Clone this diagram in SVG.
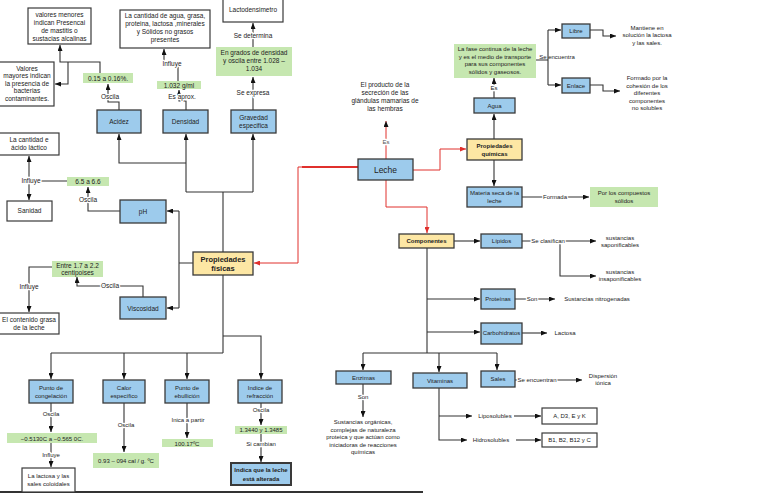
<svg xmlns="http://www.w3.org/2000/svg" width="768" height="494" viewBox="0 0 768 494">
<style>
rect.b{fill:#9dcbec;stroke:#3a3a3a;stroke-width:1.3}
rect.g{fill:#c6e7b0}
rect.y{fill:#fde7a4;stroke:#3a3a3a;stroke-width:1.3}
rect.w{fill:#fff;stroke:#3a3a3a;stroke-width:1.2}
path.c{fill:none;stroke:#333;stroke-width:1.1}
path.r{fill:none;stroke:#e0302c;stroke-width:1}
text{font-family:"Liberation Sans",Arial,sans-serif;font-size:6.5px;fill:#222;text-anchor:middle}
text.s{font-size:6px}
text.bd{font-weight:bold}
text.lb{stroke:#fff;stroke-width:2.5px;paint-order:stroke;stroke-linejoin:round}
</style>
<defs>
<marker id="a" viewBox="0 0 6 5" refX="6" refY="2.5" markerWidth="6" markerHeight="5" markerUnits="userSpaceOnUse" orient="auto"><path d="M0,0 L6,2.5 L0,5 z" fill="#111"/></marker>
<marker id="ar" viewBox="0 0 6 5" refX="6" refY="2.5" markerWidth="6" markerHeight="5" markerUnits="userSpaceOnUse" orient="auto"><path d="M0,0 L6,2.5 L0,5 z" fill="#e0302c"/></marker>
</defs>
<rect width="768" height="494" fill="#fff"/>

<g id="connectors">
<path class="c" d="M100,73 V62 H60 V45" marker-end="url(#a)"/>
<path class="c" d="M68,62 V84 H55" marker-end="url(#a)"/>
<path class="c" d="M119,110 V102 H108 V84" marker-end="url(#a)"/>
<path class="c" d="M186,110 V101 H179 V90" marker-end="url(#a)"/>
<path class="c" d="M178,81 V64 H164 V49" marker-end="url(#a)"/>
<path class="c" d="M253,110 V77" marker-end="url(#a)"/>
<path class="c" d="M253,47 V23" marker-end="url(#a)"/>
<path class="c" d="M223,252 V192 M186,192 H253"/>
<path class="c" d="M186,192 V134" marker-end="url(#a)"/>
<path class="c" d="M253,192 V134" marker-end="url(#a)"/>
<path class="c" d="M186,163 H119 V134" marker-end="url(#a)"/>
<path class="c" d="M193,263 H179 M179,211 V308"/>
<path class="c" d="M179,211 H167" marker-end="url(#a)"/>
<path class="c" d="M179,308 H167" marker-end="url(#a)"/>
<path class="c" d="M120,211 H88 V187" marker-end="url(#a)"/>
<path class="c" d="M67,181 H29"/>
<path class="c" d="M29,181 V156" marker-end="url(#a)"/>
<path class="c" d="M29,181 V200" marker-end="url(#a)"/>
<path class="c" d="M143,297 V286 H77 V277" marker-end="url(#a)"/>
<path class="c" d="M52,267 H29 V312" marker-end="url(#a)"/>
<path class="c" d="M223,275 V353 M51,353 H223"/>
<path class="c" d="M51,353 V379" marker-end="url(#a)"/>
<path class="c" d="M124,353 V379" marker-end="url(#a)"/>
<path class="c" d="M187,353 V379" marker-end="url(#a)"/>
<path class="c" d="M223,336 H261 V379" marker-end="url(#a)"/>
<path class="c" d="M51,403 V432" marker-end="url(#a)"/>
<path class="c" d="M51,443 V467" marker-end="url(#a)"/>
<path class="c" d="M124,403 V452" marker-end="url(#a)"/>
<path class="c" d="M187,403 V438" marker-end="url(#a)"/>
<path class="c" d="M261,403 V425" marker-end="url(#a)"/>
<path class="c" d="M261,434 V462" marker-end="url(#a)"/>
<path class="r" d="M358,167 H298 V263 H254" marker-end="url(#ar)"/>
<path class="r" d="M358,167 H302" style="stroke-width:2"/>
<path class="r" d="M413,170 H440 V149 H466" marker-end="url(#ar)"/>
<path class="r" d="M386,180 V207 H427 V233" marker-end="url(#ar)"/>
<path class="r" d="M386,159 V121" marker-end="url(#a)"/>
<path class="c" d="M494,139 V114" marker-end="url(#a)"/>
<path class="c" d="M494,98 V78" marker-end="url(#a)"/>
<path class="c" d="M536,60 H548 M548,30 V85"/>
<path class="c" d="M548,30 H561" marker-end="url(#a)"/>
<path class="c" d="M548,85 H561" marker-end="url(#a)"/>
<path class="c" d="M590,30 H603 V36 H616" marker-end="url(#a)"/>
<path class="c" d="M590,85 H603 V91 H620" marker-end="url(#a)"/>
<path class="c" d="M494,160 V186" marker-end="url(#a)"/>
<path class="c" d="M522,197 H589" marker-end="url(#a)"/>
<path class="c" d="M454,241 H480" marker-end="url(#a)"/>
<path class="c" d="M522,241 H596" marker-end="url(#a)"/>
<path class="c" d="M560,241 V276 H596" marker-end="url(#a)"/>
<path class="c" d="M427,248 V353 M363,353 H497"/>
<path class="c" d="M427,299 H480" marker-end="url(#a)"/>
<path class="c" d="M427,332 H480" marker-end="url(#a)"/>
<path class="c" d="M363,353 V370" marker-end="url(#a)"/>
<path class="c" d="M439,353 V372" marker-end="url(#a)"/>
<path class="c" d="M497,353 V370" marker-end="url(#a)"/>
<path class="c" d="M515,299 H555" marker-end="url(#a)"/>
<path class="c" d="M522,333 H547" marker-end="url(#a)"/>
<path class="c" d="M515,380 H582" marker-end="url(#a)"/>
<path class="c" d="M363,384 V417" marker-end="url(#a)"/>
<path class="c" d="M439,388 V440 H467" marker-end="url(#a)"/>
<path class="c" d="M439,416 H472" marker-end="url(#a)"/>
<path class="c" d="M514,416 H541" marker-end="url(#a)"/>
<path class="c" d="M516,440 H541" marker-end="url(#a)"/>
<path d="M0,492 H423" stroke="#333" stroke-width="2"/>
<text class="lb" x="110" y="99">Oscila</text>
<text class="lb" x="182" y="99">Es aprox.</text>
<text class="lb" x="172" y="66">Influye</text>
<text class="lb" x="253" y="95">Se expresa</text>
<text class="lb" x="253" y="38">Se determina</text>
<text class="lb" x="88" y="202">Oscila</text>
<text class="lb" x="31" y="183">Influye</text>
<text class="lb" x="110" y="288">Oscila</text>
<text class="lb" x="29" y="289">Influye</text>
<text class="lb s" x="51" y="416">Oscila</text>
<text class="lb s" x="51" y="457">Influye</text>
<text class="lb s" x="126" y="427">Oscila</text>
<text class="lb s" x="188" y="422">Inica a partir</text>
<text class="lb s" x="261" y="412">Oscila</text>
<text class="lb s" x="261" y="446">Si cambian</text>
<text class="lb s" x="386" y="144" style="fill:#555">Es</text>
<text class="lb s" x="494" y="90">Es</text>
<text class="s" x="557" y="59">Se encuentra</text>
<text class="lb s" x="555" y="199">Formada</text>
<text class="lb s" x="548" y="243">Se clasifican</text>
<text class="lb s" x="532" y="301">Son</text>
<text class="lb s" x="537" y="382">Se encuentran</text>
<text class="lb s" x="363" y="399">Son</text>
</g>

<g id="n-valores-menores"><rect class="w" x="28" y="8" width="63" height="36"/>
<text x="59.5" y="17">valores menores</text><text x="59.5" y="25">indican Presencai</text><text x="59.5" y="33">de mastitis o</text><text x="59.5" y="41">sustacias alcalinas</text></g>
<g id="n-valores-mayores"><rect class="w" x="-1" y="62" width="55" height="44"/>
<text x="27" y="70.5">Valores</text><text x="27" y="78">mayores indican</text><text x="27" y="85.5">la presencia de</text><text x="27" y="93">bacterias</text><text x="27" y="100.5">contaminantes.</text></g>
<g id="n-acidez-val"><rect class="g" x="83" y="73" width="50" height="10"/><text x="108" y="80.5">0.15 a 0.16%.</text></g>
<g id="n-acidez"><rect class="b" x="97" y="110" width="44" height="23"/><text x="119" y="124">Acidez</text></g>
<g id="n-cantidad-agua"><rect class="w" x="120" y="10" width="90" height="38"/>
<text x="165" y="18">La cantidad de agua, grasa,</text><text x="165" y="26">proteina, lactosa ,minerales</text><text x="165" y="34">y Sólidos no grasos</text><text x="165" y="41.5">presentes</text></g>
<g id="n-densidad-val"><rect class="g" x="157" y="81" width="44" height="8"/><text x="179" y="87.5">1.032 g/ml</text></g>
<g id="n-densidad"><rect class="b" x="163" y="110" width="45" height="23"/><text x="185.5" y="124">Densidad</text></g>
<g id="n-lactodensimetro"><rect class="w" x="223" y="-2" width="60" height="24"/><text x="253" y="12">Lactodensimetro</text></g>
<g id="n-grados"><rect class="g" x="216" y="47" width="76" height="29"/>
<text x="254" y="55">En grados de densidad</text><text x="254" y="63">y oscila entre 1.028 –</text><text x="254" y="71">1.034</text></g>
<g id="n-gravedad"><rect class="b" x="231" y="110" width="45" height="23"/><text x="253.5" y="120">Gravedad</text><text x="253.5" y="128">especifica</text></g>
<g id="n-acido-lactico"><rect class="w" x="-1" y="133" width="60" height="22"/><text x="29" y="142">La cantidad e</text><text x="29" y="150">ácido láctico</text></g>
<g id="n-sanidad"><rect class="w" x="7" y="201" width="45" height="20"/><text x="29.5" y="213">Sanidad</text></g>
<g id="n-ph-val"><rect class="g" x="67" y="177" width="42" height="9"/><text x="88" y="183.5">6.5 a 6.6</text></g>
<g id="n-ph"><rect class="b" x="120" y="200" width="46" height="23"/><text x="143" y="214">pH</text></g>
<g id="n-visc-val"><rect class="g" x="52" y="261" width="51" height="16"/><text x="77.5" y="267.5">Entre 1.7 a 2.2</text><text x="77.5" y="275">centipoises</text></g>
<g id="n-contenido"><rect class="w" x="-1" y="313" width="60" height="21"/><text x="29" y="321.5">El contenido grasa</text><text x="29" y="329.5">de la leche</text></g>
<g id="n-viscosidad"><rect class="b" x="120" y="297" width="46" height="22"/><text x="143" y="310.5">Viscosidad</text></g>
<g id="n-prop-fisicas"><rect class="y" x="193" y="252" width="60" height="23"/><text class="bd" x="223" y="261.5" style="font-size:7.5px">Propiedades</text><text class="bd" x="223" y="270.5" style="font-size:7.5px">físicas</text></g>
<g id="n-congelacion"><rect class="b" x="29" y="380" width="44" height="23"/><text class="s" x="51" y="389.5">Punto de</text><text class="s" x="51" y="397.5">congelación</text></g>
<g id="n-congelacion-val"><rect class="g" x="7" y="433" width="90" height="10"/><text class="s" x="52" y="440.5">−0.5130C a −0.565 0C.</text></g>
<g id="n-lactosa-sales"><rect class="w" x="22" y="468" width="53" height="24"/><text class="s" x="48.5" y="478">La lactosa y las</text><text class="s" x="48.5" y="486">sales coloidales</text></g>
<g id="n-calor"><rect class="b" x="103" y="380" width="42" height="23"/><text class="s" x="124" y="389.5">Calor</text><text class="s" x="124" y="397.5">específico</text></g>
<g id="n-calor-val"><rect class="g" x="93" y="453" width="66" height="15"/><text class="s" x="126" y="463">0.93 – 094 cal / g. ºC</text></g>
<g id="n-ebullicion"><rect class="b" x="165" y="380" width="44" height="23"/><text class="s" x="187" y="389.5">Punto de</text><text class="s" x="187" y="397.5">ebullición</text></g>
<g id="n-ebullicion-val"><rect class="g" x="162" y="439" width="51" height="8"/><text class="s" x="187" y="445.5">100.17ºC</text></g>
<g id="n-refraccion"><rect class="b" x="238" y="380" width="44" height="23"/><text class="s" x="260" y="389.5">Indice de</text><text class="s" x="260" y="397.5">refracción</text></g>
<g id="n-refraccion-val"><rect class="g" x="235" y="426" width="52" height="8"/><text class="s" x="261" y="432.2">1.3440 y 1.3485</text></g>
<g id="n-alterada"><rect class="b" x="231" y="463" width="60" height="22" style="stroke-width:2"/><text class="s bd" x="261" y="472">Indica que la leche</text><text class="s bd" x="261" y="480.5">está alterada</text></g>

<g id="n-leche"><rect class="b" x="358" y="159" width="55" height="21"/><text x="385.5" y="172.5" style="font-size:8.5px">Leche</text></g>
<g id="n-producto"><text x="385" y="87">El producto de la</text><text x="385" y="95">secreción  de las</text><text x="385" y="103">glándulas mamarias de</text><text x="385" y="111">las hembras</text></g>
<g id="n-prop-quimicas"><rect class="y" x="467" y="139" width="55" height="21"/><text class="s bd" x="494.5" y="147.5">Propiedades</text><text class="s bd" x="494.5" y="155.5">químicas</text></g>
<g id="n-agua"><rect class="b" x="474" y="98" width="41" height="15"/><text class="s" x="494.5" y="107.5">Agua</text></g>
<g id="n-fase"><rect class="g" x="454" y="44" width="82" height="34"/><text class="s" x="495" y="51">La fase continua de la leche</text><text class="s" x="495" y="58.5">y es el medio de transporte</text><text class="s" x="495" y="66">para sus componentes</text><text class="s" x="495" y="73.5">sólidos y gaseosos.</text></g>
<g id="n-libre"><rect class="b" x="562" y="24" width="28" height="14"/><text class="s" x="576" y="33">Libre</text></g>
<g id="n-enlace"><rect class="b" x="562" y="78" width="28" height="15"/><text class="s" x="576" y="87.5">Enlace</text></g>
<g id="n-mantiene"><text class="s" x="647" y="29.5">Mantiene en</text><text class="s" x="647" y="37">solución la lactosa</text><text class="s" x="647" y="44.5">y las sales.</text></g>
<g id="n-formado"><text class="s" x="647" y="80">Formado por la</text><text class="s" x="647" y="87.5">cohesión de los</text><text class="s" x="647" y="95">diferentes</text><text class="s" x="647" y="102.5">componentes</text><text class="s" x="647" y="110">no solubles</text></g>
<g id="n-materia"><rect class="b" x="467" y="187" width="55" height="20"/><text class="s" x="494.5" y="195">Materia seca de la</text><text class="s" x="494.5" y="202.5">leche</text></g>
<g id="n-compuestos"><rect class="g" x="590" y="187" width="68" height="20"/><text class="s" x="624" y="195">Por los compuestos</text><text class="s" x="624" y="202.5">sólidos</text></g>
<g id="n-componentes"><rect class="y" x="399" y="234" width="55" height="14"/><text class="s bd" x="426.5" y="243">Componentes</text></g>
<g id="n-lipidos"><rect class="b" x="481" y="234" width="41" height="14"/><text class="s" x="501.5" y="243">Lípidos</text></g>
<g id="n-saponificables"><text class="s" x="620" y="239.5">sustancias</text><text class="s" x="620" y="247">saponificables</text></g>
<g id="n-insaponificables"><text class="s" x="620" y="273.5">sustancias</text><text class="s" x="620" y="281">insaponificables</text></g>
<g id="n-proteinas"><rect class="b" x="481" y="289" width="34" height="20"/><text class="s" x="498" y="301">Proteínas</text></g>
<g id="n-nitrogenadas"><text class="s" x="597" y="301">Sustancias nitrogenadas</text></g>
<g id="n-carbohidratos"><rect class="b" x="481" y="323" width="41" height="21"/><text class="s" x="501.5" y="335">Carbohidratos</text></g>
<g id="n-lactosa"><text class="s" x="565" y="335">Lactosa</text></g>
<g id="n-enzimas"><rect class="b" x="336" y="371" width="55" height="13"/><text class="s" x="363.5" y="379.5">Enzimas</text></g>
<g id="n-enzimas-def"><text class="s" x="363" y="424">Sustancias orgánicas,</text><text class="s" x="363" y="431.5">complejas de naturaleza</text><text class="s" x="363" y="439">proteica y que actúan como</text><text class="s" x="363" y="446.5">iniciadoras de reacciones</text><text class="s" x="363" y="454">químicas</text></g>
<g id="n-vitaminas"><rect class="b" x="413" y="373" width="54" height="15"/><text class="s" x="440" y="382.5">Vitaminas</text></g>
<g id="n-sales"><rect class="b" x="481" y="371" width="34" height="16"/><text class="s" x="498" y="381">Sales</text></g>
<g id="n-dispersion"><text class="s" x="603" y="377.5">Dispersión</text><text class="s" x="603" y="385">iónica</text></g>
<g id="n-liposolubles"><text class="s" x="495" y="418">Liposolubles</text></g>
<g id="n-hidrosolubles"><text class="s" x="491" y="442">Hidrosolubles</text></g>
<g id="n-adek"><rect class="w" x="542" y="408" width="55" height="16"/><text class="s" x="569.5" y="418">A, D3, E y K</text></g>
<g id="n-b"><rect class="w" x="542" y="433" width="55" height="14"/><text class="s" x="569.5" y="442">B1, B2, B12 y C</text></g>
</svg>
